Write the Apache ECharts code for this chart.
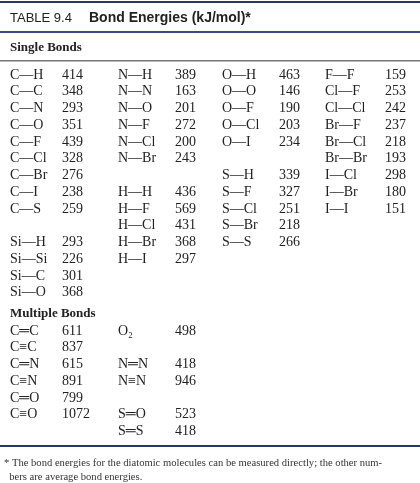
<!DOCTYPE html>
<html><head><meta charset="utf-8">
<script src="https://cdn.jsdelivr.net/npm/echarts@6/dist/echarts.min.js"></script>
<style>html,body{margin:0;padding:0;background:#fff}#c{width:420px;height:483px}</style>
</head><body><div id="c"></div>
<script>
// Single bonds: [column, row, bond, energy]
const singleBonds = [
 [0,0,'C—H',414],[0,1,'C—C',348],[0,2,'C—N',293],[0,3,'C—O',351],[0,4,'C—F',439],[0,5,'C—Cl',328],[0,6,'C—Br',276],[0,7,'C—I',238],[0,8,'C—S',259],
 [0,10,'Si—H',293],[0,11,'Si—Si',226],[0,12,'Si—C',301],[0,13,'Si—O',368],
 [1,0,'N—H',389],[1,1,'N—N',163],[1,2,'N—O',201],[1,3,'N—F',272],[1,4,'N—Cl',200],[1,5,'N—Br',243],
 [1,7,'H—H',436],[1,8,'H—F',569],[1,9,'H—Cl',431],[1,10,'H—Br',368],[1,11,'H—I',297],
 [2,0,'O—H',463],[2,1,'O—O',146],[2,2,'O—F',190],[2,3,'O—Cl',203],[2,4,'O—I',234],
 [2,6,'S—H',339],[2,7,'S—F',327],[2,8,'S—Cl',251],[2,9,'S—Br',218],[2,10,'S—S',266],
 [3,0,'F—F',159],[3,1,'Cl—F',253],[3,2,'Cl—Cl',242],[3,3,'Br—F',237],[3,4,'Br—Cl',218],[3,5,'Br—Br',193],[3,6,'I—Cl',298],[3,7,'I—Br',180],[3,8,'I—I',151]
];
// Multiple bonds: [column, row, bond, energy]
const multipleBonds = [
 [0,0,'C═C',611],[0,1,'C≡C',837],[0,2,'C═N',615],[0,3,'C≡N',891],[0,4,'C═O',799],[0,5,'C≡O',1072],
 [1,0,'O₂',498],[1,2,'N═N',418],[1,3,'N≡N',946],[1,5,'S═O',523],[1,6,'S═S',418]
];
const titleA = 'TABLE 9.4';
const titleB = 'Bond Energies (kJ/mol)*';
const sectionLabels = ['Single Bonds','Multiple Bonds'];
const footnote = ['* The bond energies for the diatomic molecules can be measured directly; the other num-','  bers are average bond energies.'];

const nameX=[10,118,222,325], valX=[62,175,279,385];
const ROW=16.75, singleTop=75, multiTop=331;
const cells=[];
singleBonds.forEach(d=>cells.push([nameX[d[0]], singleTop+d[1]*ROW, d[2], d[0], 0]));
singleBonds.forEach(d=>cells.push([valX[d[0]], singleTop+d[1]*ROW, String(d[3]), d[0], 1]));
multipleBonds.forEach(d=>cells.push([nameX[d[0]], multiTop+d[1]*ROW, d[2], d[0], 0]));
multipleBonds.forEach(d=>cells.push([valX[d[0]], multiTop+d[1]*ROW, String(d[3]), d[0], 1]));

const serif='"Liberation Serif","DejaVu Serif",serif';
const chart=echarts.init(document.getElementById('c'));
chart.setOption({
 animation:false,
 grid:{left:0,right:0,top:0,bottom:0},
 xAxis:{type:'value',min:0,max:420,show:false},
 yAxis:{type:'value',min:0,max:483,inverse:true,show:false},
 series:[{type:'custom',data:cells,renderItem:(p,api)=>{
   const pt=api.coord([api.value(0),api.value(1)]);
   return {type:'text',x:pt[0],y:pt[1],style:{text:cells[p.dataIndex][2],font:'14px '+serif,fill:'#222',verticalAlign:'middle'}};
 }}],
 graphic:[
  {type:'rect',shape:{x:0,y:1,width:420,height:2},style:{fill:'#2a3560'}},
  {type:'text',x:10,y:18,style:{text:titleA,font:'13px "Liberation Sans",Arial,sans-serif',fill:'#222',verticalAlign:'middle'}},
  {type:'text',x:89,y:18,style:{text:titleB,font:'bold 14px "Liberation Sans",Arial,sans-serif',fill:'#222',verticalAlign:'middle'}},
  {type:'rect',shape:{x:0,y:31,width:420,height:2},style:{fill:'#3a4a80'}},
  {type:'text',x:10,y:48,style:{text:sectionLabels[0],font:'bold 13px '+serif,fill:'#222',verticalAlign:'middle'}},
  {type:'rect',shape:{x:0,y:60,width:420,height:1.5},style:{fill:'#777'}},
  {type:'text',x:10,y:314,style:{text:sectionLabels[1],font:'bold 13px '+serif,fill:'#222',verticalAlign:'middle'}},
  {type:'rect',shape:{x:0,y:445,width:420,height:2},style:{fill:'#2a3560'}},
  {type:'text',x:4,y:463,style:{text:footnote[0],font:'10.6px '+serif,fill:'#333',verticalAlign:'middle'}},
  {type:'text',x:4,y:477,style:{text:footnote[1],font:'10.6px '+serif,fill:'#333',verticalAlign:'middle'}}
 ]
});
</script></body></html>
